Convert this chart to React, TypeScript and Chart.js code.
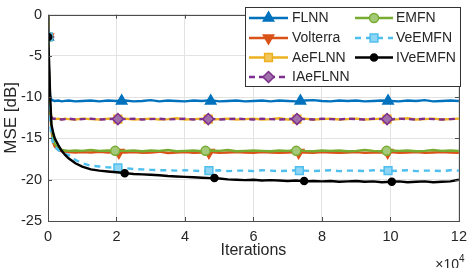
import { useEffect, useRef } from 'react';
import { Chart, registerables } from 'chart.js';
import { drawPoint } from 'chart.js/helpers';

Chart.register(...registerables);

const FONT = '"Liberation Sans", Arial, Helvetica, sans-serif';
const TXT = '#262626';

// x values in units of 10^4 iterations
const xGrid = [
  0, 0.005, 0.03, 0.06, 0.1, 0.15, 0.2, 0.3, 0.4, 0.5, 0.6, 0.8, 1.0, 1.25, 1.5, 1.75, 2.0,
  2.25, 2.5, 2.75, 3, 3.25, 3.5, 3.75, 4, 4.25, 4.5,
  4.75, 5, 5.25, 5.5, 5.75, 6, 6.25, 6.5, 6.75, 7,
  7.25, 7.5, 7.75, 8, 8.25, 8.5, 8.75, 9, 9.25, 9.5,
  9.75, 10, 10.25, 10.5, 10.75, 11, 11.25, 11.5, 11.75, 12,
];

const xTicks = [0, 2, 4, 6, 8, 10, 12];
const yTicks = [-25, -20, -15, -10, -5, 0];

const flnnY = [
  -0.2, -2.7, -7.0, -9.8, -10.3, -10.4, -10.45, -10.4, -10.5, -10.45, -10.4, -10.5, -10.45, -10.4, -10.5, -10.4, -10.45,
  -10.40, -10.50, -10.45, -10.35, -10.50, -10.40, -10.45, -10.50, -10.40, -10.45,
  -10.35, -10.50, -10.45, -10.40, -10.50, -10.45, -10.40, -10.50, -10.40, -10.45,
  -10.50, -10.40, -10.35, -10.45, -10.50, -10.40, -10.45, -10.40, -10.50, -10.45,
  -10.40, -10.45, -10.50, -10.40, -10.45, -10.35, -10.50, -10.45, -10.40, -10.45,
];
const volterraY = [
  -0.2, -2.7, -7.5, -11.5, -14.0, -15.5, -16.0, -16.4, -16.55, -16.6, -16.65, -16.7, -16.65, -16.7, -16.6, -16.7, -16.65,
  -16.70, -16.65, -16.75, -16.70, -16.60, -16.75, -16.70, -16.65, -16.75, -16.70,
  -16.65, -16.75, -16.70, -16.65, -16.70, -16.75, -16.65, -16.70, -16.75, -16.70,
  -16.65, -16.70, -16.75, -16.65, -16.70, -16.75, -16.70, -16.65, -16.75, -16.70,
  -16.70, -16.65, -16.75, -16.70, -16.65, -16.75, -16.70, -16.65, -16.70, -16.75,
];
const aeflnnY = [
  -0.2, -2.7, -8.0, -11.5, -12.4, -12.6, -12.65, -12.6, -12.7, -12.6, -12.65, -12.7, -12.6, -12.65, -12.7, -12.6, -12.65,
  -12.60, -12.70, -12.65, -12.60, -12.70, -12.65, -12.55, -12.70, -12.65, -12.60,
  -12.70, -12.65, -12.60, -12.70, -12.65, -12.60, -12.70, -12.65, -12.55, -12.70,
  -12.65, -12.60, -12.70, -12.65, -12.60, -12.70, -12.65, -12.60, -12.70, -12.65,
  -12.60, -12.70, -12.65, -12.55, -12.70, -12.65, -12.60, -12.70, -12.65, -12.60,
];
const iaeflnnY = [
  -0.2, -2.7, -8.0, -11.6, -12.45, -12.6, -12.6, -12.65, -12.7, -12.65, -12.6, -12.7, -12.65, -12.6, -12.7, -12.65, -12.6,
  -12.65, -12.60, -12.70, -12.65, -12.60, -12.70, -12.65, -12.60, -12.70, -12.65,
  -12.60, -12.70, -12.65, -12.60, -12.65, -12.70, -12.60, -12.65, -12.70, -12.65,
  -12.60, -12.65, -12.70, -12.60, -12.65, -12.70, -12.60, -12.65, -12.70, -12.60,
  -12.65, -12.70, -12.60, -12.65, -12.70, -12.60, -12.65, -12.70, -12.65, -12.60,
];
const emfnY = [
  -0.2, -2.7, -7.2, -11.0, -13.5, -15.0, -15.7, -16.2, -16.4, -16.45, -16.5, -16.45, -16.5, -16.4, -16.5, -16.45, -16.5,
  -16.50, -16.45, -16.55, -16.45, -16.50, -16.40, -16.55, -16.50, -16.45, -16.55,
  -16.45, -16.50, -16.40, -16.55, -16.50, -16.45, -16.50, -16.55, -16.45, -16.50,
  -16.40, -16.50, -16.55, -16.45, -16.50, -16.45, -16.55, -16.50, -16.40, -16.50,
  -16.55, -16.45, -16.50, -16.45, -16.55, -16.50, -16.40, -16.50, -16.45, -16.50,
];
const veemfnY = [
  -0.2, -2.7, -8.0, -13.0, -14.8, -15.6, -16.0, -16.4, -16.7, -16.9, -17.0, -17.6, -18.0, -18.3, -18.4, -18.5, -18.55,
  -18.60, -18.70, -18.75, -18.80, -18.85, -18.85, -18.90, -18.85, -18.90, -18.95,
  -18.90, -18.85, -18.95, -18.90, -18.90, -18.95, -18.85, -18.90, -18.95, -18.90,
  -18.85, -18.90, -18.95, -18.90, -18.85, -18.95, -18.90, -18.90, -18.95, -18.85,
  -18.90, -18.95, -18.90, -18.85, -18.95, -18.90, -18.90, -18.95, -18.85, -18.90,
];
const iveemfnY = [
  -0.2, -2.7, -5.5, -9.5, -13.3, -14.3, -15.0, -15.8, -16.5, -17.0, -17.4, -18.0, -18.4, -18.75, -18.9, -19.0, -19.1,
  -19.20, -19.30, -19.35, -19.40, -19.45, -19.55, -19.60, -19.65, -19.70, -19.75,
  -19.80, -19.85, -19.95, -20.00, -20.05, -20.00, -20.10, -20.05, -20.10, -20.15,
  -20.10, -20.20, -20.15, -20.20, -20.15, -20.25, -20.20, -20.15, -20.25, -20.20,
  -20.30, -20.25, -20.20, -20.30, -20.25, -20.20, -20.30, -20.25, -20.20, -20.00,
];

// marker positions (x in 10^4 iterations, y in dB)
const flnnMarkX = [0.005, 2.15, 4.75, 7.37, 9.93];
const flnnMarkY = [-2.7, -10.45, -10.45, -10.45, -10.45];
const volterraMarkX = [0.005, 2.07, 4.7, 7.32, 9.92];
const volterraMarkY = [-2.7, -16.7, -16.7, -16.7, -16.7];
const aeflnnMarkX = [0.005, 2.04, 4.68, 7.27, 9.9];
const aeflnnMarkY = [-2.7, -12.65, -12.65, -12.65, -12.65];
const iaeflnnMarkX = [0.005, 2.04, 4.68, 7.27, 9.9];
const iaeflnnMarkY = [-2.7, -12.65, -12.65, -12.65, -12.65];
const emfnMarkX = [0.005, 1.96, 4.6, 7.25, 9.89];
const emfnMarkY = [-2.7, -16.5, -16.5, -16.5, -16.5];
const veemfnMarkX = [0.005, 2.04, 4.7, 7.34, 9.93];
const veemfnMarkY = [-2.7, -18.55, -18.9, -18.9, -18.9];
const iveemfnMarkX = [0.005, 2.24, 4.86, 7.48, 10.04];
const iveemfnMarkY = [-2.7, -19.2, -19.8, -20.15, -20.25];

type Series = {
  name: string;
  color: string;
  fill: string;
  dash: number[];
  style: string;
  rot: number;
  radius: number;
  y: number[];
  mx: number[];
  my: number[];
};

const series: Series[] = [
  { name: 'FLNN', color: '#0072BD', fill: '#0072BD', dash: [], style: 'triangle', rot: 0, radius: 6, y: flnnY, mx: flnnMarkX, my: flnnMarkY },
  { name: 'Volterra', color: '#D95319', fill: '#D95319', dash: [], style: 'triangle', rot: 180, radius: 6, y: volterraY, mx: volterraMarkX, my: volterraMarkY },
  { name: 'AeFLNN', color: '#EDB120', fill: '#F2C45A', dash: [], style: 'rect', rot: 0, radius: 5.5, y: aeflnnY, mx: aeflnnMarkX, my: aeflnnMarkY },
  { name: 'IAeFLNN', color: '#7E2F8E', fill: '#A070AA', dash: [6, 4], style: 'rectRot', rot: 0, radius: 5.5, y: iaeflnnY, mx: iaeflnnMarkX, my: iaeflnnMarkY },
  { name: 'EMFN', color: '#77AC30', fill: '#A5C97A', dash: [], style: 'circle', rot: 0, radius: 4.5, y: emfnY, mx: emfnMarkX, my: emfnMarkY },
  { name: 'VeEMFN', color: '#4DBEEE', fill: '#8ED6F4', dash: [6, 5], style: 'rect', rot: 0, radius: 5.5, y: veemfnY, mx: veemfnMarkX, my: veemfnMarkY },
  { name: 'IVeEMFN', color: '#000000', fill: '#000000', dash: [], style: 'circle', rot: 0, radius: 3.5, y: iveemfnY, mx: iveemfnMarkX, my: iveemfnMarkY },
];

const framePlugin = {
  id: 'frame',
  afterDatasetsDraw(chart: any) {
    const { ctx, chartArea: a, scales } = chart;
    ctx.save();
    ctx.strokeStyle = '#4d4d4d';
    ctx.lineWidth = 1;
    ctx.setLineDash([]);
    ctx.beginPath();
    const tl = 4;
    for (const t of xTicks) {
      const px = Math.round(scales.x.getPixelForValue(t)) + 0.5;
      ctx.moveTo(px, a.bottom);
      ctx.lineTo(px, a.bottom - tl);
      ctx.moveTo(px, a.top);
      ctx.lineTo(px, a.top + tl);
    }
    for (const t of yTicks) {
      const py = Math.round(scales.y.getPixelForValue(t)) + 0.5;
      ctx.moveTo(a.left, py);
      ctx.lineTo(a.left + tl, py);
      ctx.moveTo(a.right, py);
      ctx.lineTo(a.right - tl, py);
    }
    ctx.stroke();
    ctx.strokeRect(Math.round(a.left) + 0.5, Math.round(a.top) + 0.5, Math.round(a.right - a.left), Math.round(a.bottom - a.top));

    // axis titles
    ctx.fillStyle = TXT;
    ctx.font = `16px ${FONT}`;
    ctx.textAlign = 'center';
    ctx.textBaseline = 'middle';
    ctx.fillText('Iterations', (a.left + a.right) / 2, 251);
    ctx.save();
    ctx.translate(11, (a.top + a.bottom) / 2);
    ctx.rotate(-Math.PI / 2);
    ctx.font = `17px ${FONT}`;
    ctx.fillText('MSE [dB]', 0, 0);
    ctx.restore();

    // exponent label
    ctx.font = `14px ${FONT}`;
    ctx.textAlign = 'right';
    ctx.fillText('\u00d710', 459, 265);
    ctx.font = `10px ${FONT}`;
    ctx.textAlign = 'left';
    ctx.fillText('4', 459, 259);

    // legend
    const bx = 245, by = 7, bw = 215, bh = 79;
    ctx.fillStyle = '#ffffff';
    ctx.fillRect(bx, by, bw, bh);
    ctx.strokeStyle = '#333333';
    ctx.strokeRect(bx + 0.5, by + 0.5, bw, bh);
    const rows = [18, 38, 57.5, 77];
    const cols = [
      { x0: 249, x1: 288, tx: 292 },
      { x0: 355, x1: 393, tx: 396 },
    ];
    series.forEach((s, i) => {
      const col = i < 4 ? cols[0] : cols[1];
      const ry = i < 4 ? rows[i] : rows[i - 4];
      ctx.strokeStyle = s.color;
      ctx.lineWidth = 2.4;
      ctx.setLineDash(s.dash);
      ctx.beginPath();
      ctx.moveTo(col.x0, ry);
      ctx.lineTo(col.x1, ry);
      ctx.stroke();
      ctx.setLineDash([]);
      ctx.fillStyle = s.fill;
      ctx.strokeStyle = s.color;
      ctx.lineWidth = 1.5;
      drawPoint(ctx, { pointStyle: s.style, rotation: s.rot, radius: s.radius, borderWidth: 1.5 } as any, (col.x0 + col.x1) / 2, ry);
      ctx.fillStyle = TXT;
      ctx.font = `14px ${FONT}`;
      ctx.textAlign = 'left';
      ctx.textBaseline = 'middle';
      ctx.fillText(s.name, col.tx, ry + 0.5);
    });
    ctx.restore();
  },
};

export default function App() {
  const ref = useRef<HTMLCanvasElement>(null);
  useEffect(() => {
    const datasets: any[] = [];
    series.forEach((s, i) => {
      datasets.push({
        type: 'line',
        label: s.name,
        data: xGrid.map((x, k) => ({ x, y: s.y[k] })),
        borderColor: s.color,
        backgroundColor: s.color,
        borderWidth: 2.4,
        borderDash: s.dash,
        pointRadius: 0,
        tension: 0,
        fill: false,
        order: 100 - 2 * i,
      });
      datasets.push({
        type: 'line',
        label: s.name + ' markers',
        data: s.mx.map((x, k) => ({ x, y: s.my[k] })),
        showLine: false,
        borderColor: s.color,
        backgroundColor: s.fill,
        pointBorderColor: s.color,
        pointBackgroundColor: s.fill,
        pointStyle: s.style,
        pointRotation: s.rot,
        pointRadius: s.radius,
        pointBorderWidth: 1.5,
        order: 99 - 2 * i,
      });
    });
    const chart = new Chart(ref.current as HTMLCanvasElement, {
      type: 'line',
      data: { datasets },
      options: {
        animation: false,
        responsive: true,
        maintainAspectRatio: false,
        layout: { padding: { top: 5, right: 8, left: 0, bottom: 0 } },
        plugins: { legend: { display: false }, tooltip: { enabled: false } },
        scales: {
          x: {
            type: 'linear',
            min: 0,
            max: 12,
            afterBuildTicks: (sc: any) => { sc.ticks = xTicks.map((v) => ({ value: v })); },
            afterFit: (sc: any) => { sc.height = 47; },
            ticks: { color: TXT, font: { family: FONT, size: 14.5 }, padding: 7, maxRotation: 0 },
            grid: { color: '#e3e3e3', drawTicks: false, lineWidth: 1 },
            border: { display: false },
          },
          y: {
            type: 'linear',
            min: -25,
            max: 0,
            afterBuildTicks: (sc: any) => { sc.ticks = yTicks.map((v) => ({ value: v })); },
            afterFit: (sc: any) => { sc.width = 48; },
            ticks: { color: TXT, font: { family: FONT, size: 14.5 }, padding: 6 },
            grid: { color: '#e3e3e3', drawTicks: false, lineWidth: 1 },
            border: { display: false },
          },
        },
      },
      plugins: [framePlugin],
    });
    return () => chart.destroy();
  }, []);
  return (
    <div style={{ position: 'fixed', left: 0, top: 0, width: 474, height: 268, background: '#ffffff' }}>
      <canvas ref={ref} />
    </div>
  );
}
